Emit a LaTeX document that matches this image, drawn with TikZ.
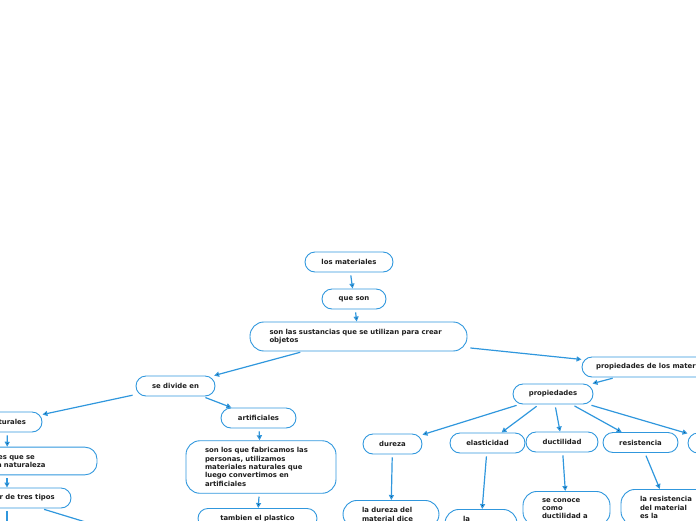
\documentclass[tikz,border=0pt]{standalone}
\usepackage{fontspec}
\setmainfont{DejaVu Sans}
\usetikzlibrary{positioning, arrows.meta}

\definecolor{mapblue}{HTML}{3097DD}
\definecolor{maptext}{HTML}{1E1E1E}

\begin{document}
\begin{tikzpicture}[x=1pt, y=-1pt, >={Triangle[length=5pt,width=5pt]},
  every node/.style={font=\fontsize{6.9}{8.3}\selectfont\bfseries, text=maptext},
  topic/.style={draw=mapblue, line width=0.9pt, rounded corners=10pt, minimum height=20pt, inner sep=0pt},
  note/.style={draw=mapblue, line width=0.9pt, rounded corners=14pt, align=left, inner xsep=19pt, inner ysep=7pt},
  link/.style={draw=mapblue, line width=1.2pt, shorten <=3pt}]
  \useasboundingbox (0,0) rectangle (696,520);
  \clip (0,0) rectangle (696,520);

  \node[topic, minimum width=88pt] (mat) at (349,262) {los materiales};
  \node[topic, minimum width=64pt] (queson) at (354,299) {que son};
  \node[note, text width=178pt, inner xsep=19.5pt] (sust) at (358.5,336.5) {son las sustancias que se utilizan para crear\\objetos};
  \node[topic, minimum width=79pt] (divide) at (175.5,386) {se divide en};
  \node[topic, minimum width=146pt] (propmat) at (655,367) {propiedades de los materiales};
  \node[topic, minimum width=80pt] (prop) at (553,394) {propiedades};

  \node[topic, minimum width=69pt] (nat) at (7.5,422) {naturales};
  \node[note, text width=142pt, rounded corners=12pt] (natdef) at (7,461) {son los materiales que se\\encuentran en la naturaleza};
  \node[topic, minimum width=128pt] (tipos) at (7,498) {pueden ser de tres tipos};
  \coordinate (tipoa) at (7,560);
  \coordinate (tipob) at (115,531);

  \node[topic, minimum width=75pt] (art) at (258.5,418) {artificiales};
  \node[note, text width=112pt] (artdef) at (261,467) {son los que fabricamos las\\personas, utilizamos\\materiales naturales que\\luego convertimos en\\artificiales};
  \node[topic, minimum width=119pt, anchor=north] (plast) at (257.5,508) {tambien el plastico};

  \node[topic, minimum width=59pt] (dureza) at (392.5,444) {dureza};
  \node[topic, minimum width=75pt] (elast) at (487.5,443) {elasticidad};
  \node[topic, minimum width=72pt] (duct) at (562,442) {ductilidad};
  \node[topic, minimum width=75pt] (resist) at (640.5,442.5) {resistencia};
  \node[topic, minimum width=64pt] (tenac) at (720,443) {};

  \node[note, text width=58pt, anchor=north] (durdef) at (391,500) {la dureza del\\material dice};
  \node[note, text width=36pt, inner xsep=18pt, anchor=north] (elastdef) at (481,509) {la\\elasticidad};
  \node[note, text width=49pt, anchor=north] (ductdef) at (566.5,491) {se conoce\\como\\ductilidad a};
  \node[note, text width=55pt, anchor=north] (resdef) at (667.5,489) {la resistencia\\del material\\es la};

  \path[->, link]
  (mat) edge (queson)
  (queson) edge (sust)
  (sust) edge (divide)
  (sust) edge (propmat)
  (propmat) edge (prop)
  (divide) edge (nat)
  (divide) edge (art)
  (nat) edge (natdef)
  (natdef) edge (tipos)
  (tipos) edge (tipoa)
  (tipos) edge (tipob)
  (art) edge (artdef)
  (artdef) edge (plast)
  (prop) edge (dureza)
  (prop) edge (elast)
  (prop) edge (duct)
  (prop) edge (resist)
  (prop) edge (tenac)
  (dureza) edge (durdef)
  (elast) edge (elastdef)
  (duct) edge (ductdef)
  (resist) edge (resdef);
\end{tikzpicture}
\end{document}
